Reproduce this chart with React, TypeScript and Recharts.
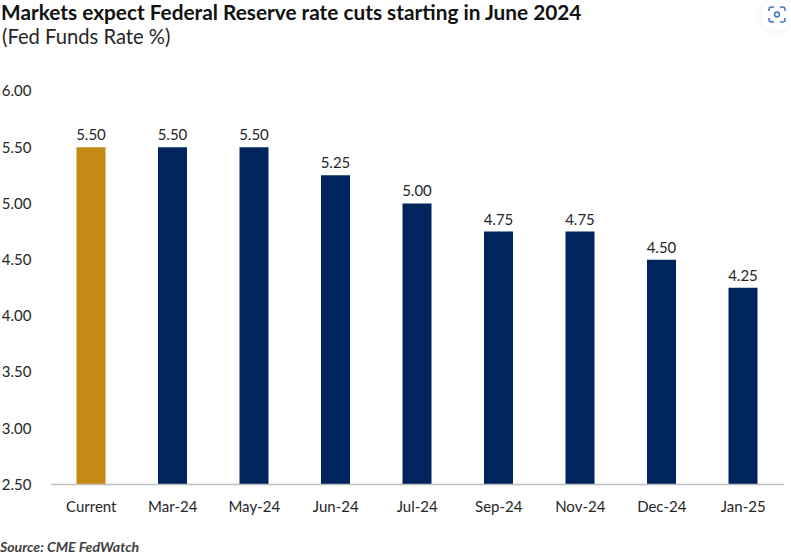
import { BarChart, Bar, XAxis, YAxis, Cell, LabelList } from "recharts";

const categories = ["Current", "Mar-24", "May-24", "Jun-24", "Jul-24", "Sep-24", "Nov-24", "Dec-24", "Jan-25"];
const rates = [5.5, 5.5, 5.5, 5.25, 5.0, 4.75, 4.75, 4.5, 4.25];
const yTicks = [2.5, 3, 3.5, 4, 4.5, 5, 5.5, 6];

const data = categories.map((month, i) => ({ month, rate: rates[i] }));
const FONT = "Lato, sans-serif";
const TEXT = "#262626";

const LensIcon = () => (
  <div
    style={{
      position: "absolute",
      left: 761,
      top: -1,
      width: 32,
      height: 32,
      borderRadius: "50%",
      background: "#fff",
      boxShadow: "0 0 6px rgba(0,0,0,0.08)",
    }}
  >
    <svg width={32} height={32} style={{ display: "block" }}>
      <g fill="none" stroke="#3f74b5" strokeWidth={1.5} transform="translate(8 8)">
        <path d="M0 4 V2 Q0 0 3 0 H5 M11 0 H13 Q16 0 16 2 V4 M16 11 V13 Q16 15 13 15 H11 M5 15 H3 Q0 15 0 13 V11" />
        <circle cx={8} cy={7.5} r={2.4} />
      </g>
    </svg>
  </div>
);

export default function App() {
  return (
    <div style={{ position: "absolute", left: 0, top: 0, width: 791, height: 555, background: "#fff", overflow: "hidden" }}>
      <BarChart
        width={791}
        height={555}
        data={data}
        margin={{ top: 91, right: 7, bottom: 0, left: 0.5 }}
        barSize={29}
      >
        <XAxis
          dataKey="month"
          height={70.5}
          interval={0}
          tick={{ fontSize: 15, fill: TEXT, fontFamily: FONT }}
          tickLine={false}
          tickMargin={11}
          axisLine={{ stroke: "#bfbfbf", strokeWidth: 1.5 }}
        />
        <YAxis
          width={50}
          domain={[2.5, 6]}
          ticks={yTicks}
          tickFormatter={(v: number) => v.toFixed(2)}
          tick={{ fontSize: 15, fill: TEXT, fontFamily: FONT }}
          tickLine={false}
          axisLine={false}
          tickMargin={13}
        />
        <Bar dataKey="rate" isAnimationActive={false}>
          {data.map((d, i) => (
            <Cell key={d.month} fill={i === 0 ? "#c48a14" : "#00245d"} />
          ))}
          <LabelList
            dataKey="rate"
            position="top"
            offset={7}
            formatter={(v: number) => v.toFixed(2)}
            style={{ fontSize: 15, fill: TEXT, fontFamily: FONT }}
          />
        </Bar>
      </BarChart>
      <div style={{ position: "absolute", left: 1, top: 2, fontFamily: FONT, fontWeight: 700, fontSize: 20.8, lineHeight: "20px", color: "#111", whiteSpace: "nowrap" }}>
        Markets expect Federal Reserve rate cuts starting in June 2024
      </div>
      <div style={{ position: "absolute", left: 2, top: 24, fontFamily: FONT, fontSize: 20.2, lineHeight: "24px", color: TEXT, whiteSpace: "nowrap" }}>
        (Fed Funds Rate %)
      </div>
      <div style={{ position: "absolute", left: 0, top: 538, fontFamily: FONT, fontWeight: 700, fontStyle: "italic", fontSize: 14.1, lineHeight: "18px", color: "#404040", whiteSpace: "nowrap" }}>
        Source: CME FedWatch
      </div>
      <LensIcon />
    </div>
  );
}
